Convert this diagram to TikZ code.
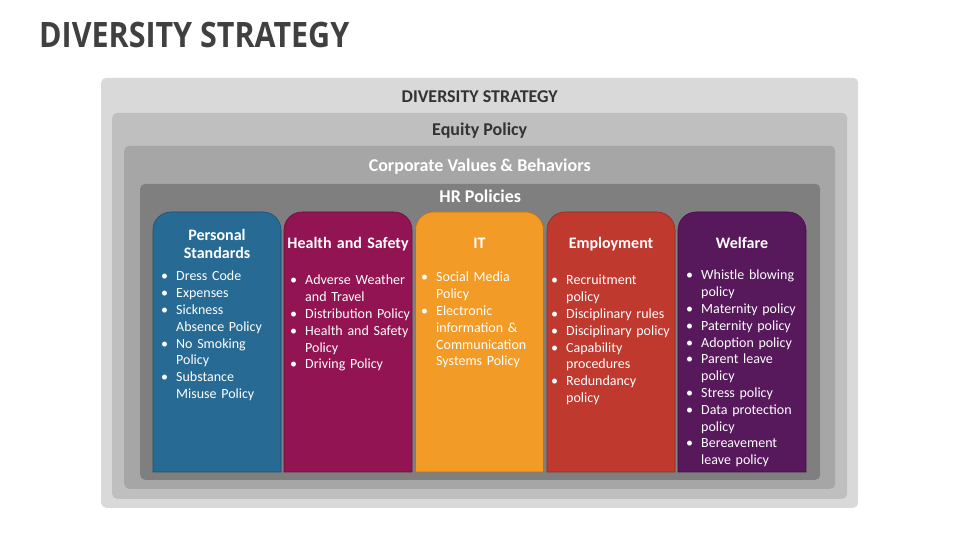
\documentclass[tikz,border=0pt]{standalone}
\usepackage{fontspec}
\setmainfont{Carlito}
\newfontfamily\titlefont[FakeStretch=0.87]{Open Sans}
\usetikzlibrary{shadows}

\definecolor{layerA}{HTML}{D9D9D9}
\definecolor{layerB}{HTML}{BFBFBF}
\definecolor{layerC}{HTML}{A6A6A6}
\definecolor{layerD}{HTML}{7F7F7F}
\definecolor{darktext}{HTML}{333333}
\definecolor{titlegray}{HTML}{404040}
\definecolor{persBlue}{HTML}{276A94}
\definecolor{healthRed}{HTML}{921452}
\definecolor{itOrange}{HTML}{F29B26}
\definecolor{empRed}{HTML}{C0392F}
\definecolor{welPurple}{HTML}{57185C}

% bullet item with hanging indent
\newcommand{\itm}[1]{\par\noindent\hangindent=15pt\hangafter=1%
  \makebox[15pt][l]{\rule{0pt}{12pt}\textbullet}#1\par}

\begin{document}
\begin{tikzpicture}[x=1pt, y=1pt,
    layer/.style={fill=#1, rounded corners=5pt, inner sep=0pt, anchor=south west},
    layerlbl/.style={font=\fontsize{18}{21}\selectfont\bfseries, anchor=base, inner sep=0pt},
    colhead/.style={font=\fontsize{16}{18}\selectfont\bfseries, text=white,
                    text width=124pt, align=center, anchor=north, inner sep=0pt},
    colbody/.style={font=\fontsize{14}{16.8}\selectfont, text=white,
                    text width=140pt, align=left, anchor=north west, inner sep=0pt},
  ]
  \useasboundingbox (0,0) rectangle (960,540);

  \node[anchor=base west, inner sep=0pt, text=titlegray,
        font={\titlefont\bfseries\fontsize{35}{40}\selectfont}] (title) at (39,492.7) {DIVERSITY STRATEGY};

  % nested layers
  \node[layer=layerA, minimum width=757pt, minimum height=430pt] (strategy) at (101,32) {};
  \node[layer=layerB, minimum width=735pt, minimum height=386pt] (equity) at (112,41) {};
  \node[layer=layerC, minimum width=711pt, minimum height=343pt] (values) at (124,51) {};
  \node[layer=layerD, minimum width=680pt, minimum height=296pt] (hr) at (140,60) {};

  \node[layerlbl, text=darktext] (strategyLbl) at ([yshift=-25pt]strategy.north) {DIVERSITY STRATEGY};
  \node[layerlbl, text=darktext] (equityLbl) at ([yshift=-23pt]equity.north) {Equity Policy};
  \node[layerlbl, text=white] (valuesLbl) at ([yshift=-26pt]values.north) {Corporate Values \& Behaviors};
  \node[layerlbl, text=white] (hrLbl) at ([yshift=-19.3pt]hr.north) {HR Policies};

  % policy columns
  \foreach \x/\col in {153/persBlue, 284/healthRed, 415.5/itOrange, 547/empRed, 678/welPurple}
    \fill[\col, draw=\col!75!black, line width=0.6pt,
          drop shadow={shadow xshift=1.5pt, shadow yshift=-1.5pt, opacity=0.35}]
      (\x,68) -- (\x,310) arc[start angle=180, end angle=90, radius=18pt]
      -- (\x+110,328) arc[start angle=90, end angle=0, radius=18pt] -- (\x+128,68) -- cycle;

  \node[colhead] (persHead) at (217,313) {\rule{0pt}{13pt}Personal\\Standards};
  \node[colhead] (healthHead) at (348,305) {\rule{0pt}{13pt}Health and Safety};
  \node[colhead] (itHead) at (479.5,305) {\rule{0pt}{13pt}IT};
  \node[colhead] (empHead) at (611,305) {\rule{0pt}{13pt}Employment};
  \node[colhead] (welHead) at (742,305) {\rule{0pt}{13pt}Welfare};

  \node[colbody] (persList) at (161,276) {%
    \itm{Dress Code}\itm{Expenses}\itm{Sickness\newline Absence Policy}%
    \itm{No Smoking\newline Policy}\itm{Substance\newline Misuse Policy}};
  \node[colbody] (healthList) at (290,272) {%
    \itm{Adverse Weather\newline and Travel}\itm{Distribution Policy}%
    \itm{Health and Safety\newline Policy}\itm{Driving Policy}};
  \node[colbody] (itList) at (421,275) {%
    \itm{Social Media\newline Policy}\itm{Electronic\newline information \&\newline Communication\newline Systems Policy}};
  \node[colbody] (empList) at (551,272) {%
    \itm{Recruitment\newline policy}\itm{Disciplinary rules}\itm{Disciplinary policy}%
    \itm{Capability\newline procedures}\itm{Redundancy\newline policy}};
  \node[colbody] (welList) at (686,277) {%
    \itm{Whistle blowing\newline policy}\itm{Maternity policy}\itm{Paternity policy}%
    \itm{Adoption policy}\itm{Parent leave\newline policy}\itm{Stress policy}%
    \itm{Data protection\newline policy}\itm{Bereavement\newline leave policy}};
\end{tikzpicture}
\end{document}
